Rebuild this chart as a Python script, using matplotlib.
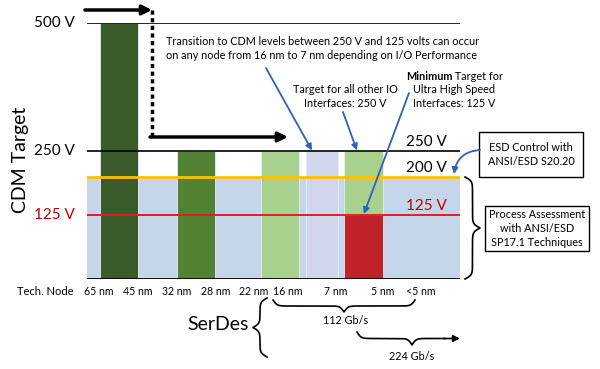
"""
CDM target vs technology node (schematic chart)
"""

import matplotlib.pyplot as plt
import numpy as np
from matplotlib.patches import Rectangle, FancyArrowPatch
from matplotlib.transforms import Affine2D

plt.rcParams["font.family"] = ["Lato", "DejaVu Sans"]

# ---- data ----
nodes = ["65 nm", "45 nm", "32 nm", "28 nm", "22 nm", "16 nm", "7 nm", "5 nm", "<5 nm"]
node_pos = [0.31, 1.33, 2.34, 3.34, 4.34, 5.23, 6.47, 7.70, 8.69]

left_levels = [500, 250, 125]
left_labels = ["500 V", "250 V", "125 V"]
right_levels = [250, 200, 125]
right_labels = ["250 V", "200 V", "125 V"]
ref_lines = [500, 250]
esd_level = 200
min_level = 125

# bars: node span (left/right) and voltage span
bar_left = [0.34, 2.34, 4.53, 5.70, 6.68, 6.68]
bar_right = [1.33, 3.33, 5.51, 6.53, 7.70, 7.70]
bar_bottom = [0, 0, 0, 0, 125, 0]
bar_top = [500, 250, 250, 250, 250, 125]
bar_colors = ["#3a5a2a", "#548235", "#a9d18e", "#d0d6ec", "#a9d18e", "#c0222a"]

BLUE_BAND = "#c5d5ea"
RED = "#c00000"
ARROW_BLUE = "#3060b8"
NOTE = 7.8

W, H = 600, 369
fig = plt.figure(figsize=(W / 100, H / 100), dpi=100)
ax = fig.add_axes([87 / W, (H - 279) / H, 373 / W, 256 / H])
ax.set_xlim(0, 9.7)
ax.set_ylim(0, 500)
ax.axis("off")

# pixel transform for layout of notes (origin top-left)
pix = Affine2D().scale(1 / W, -1 / H).translate(0, 1) + fig.transFigure

# band of ESD control (0 .. 200 V)
ax.axhspan(0, esd_level, color=BLUE_BAND, zorder=1, lw=0)

# bars
for l, r, b, t, c in zip(bar_left, bar_right, bar_bottom, bar_top, bar_colors):
    ax.bar(l, t - b, width=r - l, bottom=b, align="edge", color=c,
           edgecolor="#e6edf6", linewidth=0.6, zorder=2)

# level lines
for lv in ref_lines:
    ax.axhline(lv, color="black", lw=1.2, zorder=3)
ax.axhline(esd_level, color="#ffc000", lw=2.0, zorder=3)
ax.axhline(min_level, color="#e0201e", lw=1.4, zorder=3)
ax.axhline(0, color="black", lw=2.0, zorder=3)

# left voltage labels
for lv, lab in zip(left_levels, left_labels):
    ax.text(-0.31, lv, lab, ha="right", va="center", fontsize=11,
            color=RED if lv == min_level else "black")
# right voltage labels
for lv, lab in zip(right_levels, right_labels):
    ax.text(8.84, lv + 4, lab, ha="center", va="bottom", fontsize=11,
            color=RED if lv == min_level else "black", zorder=4)

ax.text(-1.74, 232, "CDM Target", rotation=90, ha="center", va="center", fontsize=14)

# tech node labels
ax.text(-0.34, -25, "Tech. Node", ha="right", va="center", fontsize=8)
for p, lab in zip(node_pos, nodes):
    ax.text(p, -25, lab, ha="center", va="center", fontsize=7.6)


def brace(x0, x1, y, depth, r=2.0, n=400):
    """horizontal curly brace in pixel coords, tip at y+depth"""
    L = x1 - x0
    b = L / r
    u = np.linspace(0, 0.5, n // 2)
    v = 1 / (1 + np.exp(-b * u)) + 1 / (1 + np.exp(-b * (u - 0.5))) - 0.5
    v = np.concatenate([v, v[-2::-1]])
    uu = np.linspace(0, 1, len(v))
    return x0 + uu * L, y + v * depth


def draw(xs, ys, lw=1.2, **kw):
    ax.plot(xs, ys, transform=pix, color="black", lw=lw, clip_on=False, **kw)


# 112 Gb/s brace
bx, by = brace(273, 415, 300, 12)
draw(bx, by)
ax.text(346, 320, "112 Gb/s", transform=pix, ha="center", va="center", fontsize=NOTE)

# 224 Gb/s brace, running into an arrow
bx, by = brace(357, 467, 332, 13)
keep = bx < 445
draw(bx[keep], by[keep])
ax.annotate("", xy=(460, by[keep][-1]), xytext=(bx[keep][-1] - 1, by[keep][-1]),
            xycoords=pix, textcoords=pix,
            arrowprops=dict(arrowstyle="-|>", color="black", lw=1.2,
                            mutation_scale=10, shrinkA=0, shrinkB=0))
ax.text(412, 357, "224 Gb/s", transform=pix, ha="center", va="center", fontsize=NOTE)

# SerDes brace (vertical, tip to the left)
bx, by = brace(298, 357, 267, -14)
draw(by, bx)
ax.text(218, 325, "SerDes", transform=pix, ha="center", va="center", fontsize=14)

# process assessment brace (vertical, tip to the right)
bx, by = brace(177, 279, 465, 15)
draw(by, bx)

# boxes
ax.add_patch(Rectangle((479, 132), 104, 45, transform=pix, fill=False,
                       edgecolor="black", lw=1.0, clip_on=False))
ax.text(531, 154.5, "ESD Control with\nANSI/ESD S20.20", transform=pix,
        ha="center", va="center", fontsize=NOTE, linespacing=1.3)
ax.add_patch(Rectangle((485, 206), 104, 45, transform=pix, fill=False,
                       edgecolor="black", lw=1.0, clip_on=False))
ax.text(537, 228.5, "Process Assessment\nwith ANSI/ESD\nSP17.1 Techniques",
        transform=pix, ha="center", va="center", fontsize=NOTE, linespacing=1.3)

esd_arrow = FancyArrowPatch((480, 150), (454, 174), transform=pix,
                            connectionstyle="arc3,rad=0.4", arrowstyle="-|>",
                            color=ARROW_BLUE, lw=1.3, mutation_scale=9,
                            shrinkA=0, shrinkB=0, clip_on=False)
fig.add_artist(esd_arrow)

# top transition arrows
heavy = dict(arrowstyle="-|>", color="black", lw=2.5, mutation_scale=14,
             shrinkA=0, shrinkB=0)
ax.annotate("", xy=(152, 10), xytext=(85, 10), xycoords=pix, textcoords=pix,
            arrowprops=heavy)
draw([152, 152], [10, 137], lw=2.5, linestyle=(0, (1.2, 1.0)))
ax.annotate("", xy=(288, 137), xytext=(150, 137), xycoords=pix, textcoords=pix,
            arrowprops=heavy)

# notes
ax.text(166, 48.5,
        "Transition to CDM levels between 250 V and 125 volts can occur\n"
        "on any node from 16 nm to 7 nm depending on I/O Performance",
        transform=pix, ha="left", va="center", fontsize=NOTE, linespacing=1.3)
ax.text(345, 96.5, "Target for all other IO\nInterfaces: 250 V", transform=pix,
        ha="center", va="center", fontsize=NOTE, linespacing=1.3)
t_min = ax.text(406, 77, "Minimum", transform=pix, ha="left", va="center",
                fontsize=NOTE, fontweight="bold")
ax.annotate(" Target for", xy=(1, 0.5), xycoords=t_min, ha="left", va="center",
            fontsize=NOTE)
ax.text(454, 96.5, "Ultra High Speed\nInterfaces: 125 V", transform=pix,
        ha="center", va="center", fontsize=NOTE, linespacing=1.3)

# blue pointer arrows
thin = dict(arrowstyle="-|>", color=ARROW_BLUE, lw=1.3, mutation_scale=9,
            shrinkA=0, shrinkB=0)
ax.annotate("", xy=(5.85, 251), xytext=(266, 68), textcoords=pix, arrowprops=thin)
ax.annotate("", xy=(7.02, 251), xytext=(343, 112), textcoords=pix, arrowprops=thin)
ax.annotate("", xy=(7.2, 127), xytext=(409, 93), textcoords=pix, arrowprops=thin)

fig.savefig("out.png", dpi=100)
